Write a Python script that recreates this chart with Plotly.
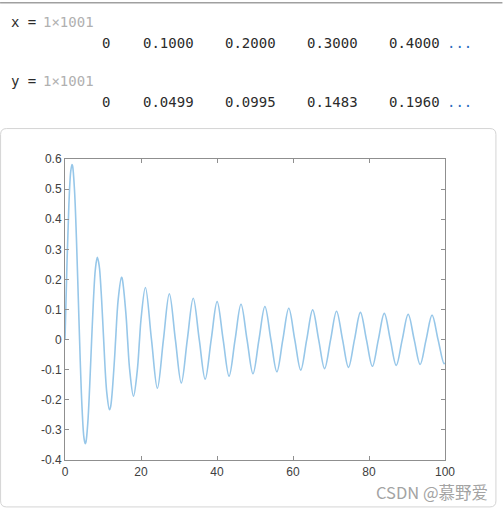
import plotly.graph_objects as go

# ---- data (start of curve, peaks, troughs and zero crossings) ----
x_vals = [0, 0.5, 1.0, 1.5, 1.8412, 2.0, 2.5, 3.0, 3.5, 4.0, 4.5, 5.0, 5.3314, 5.5, 6.0, 6.5,
          7.0, 7.5, 8.0, 8.5, 9.0, 9.5, 10.0, 10.1735, 11.0, 11.706, 12.0, 13.0, 13.3237,
          14.0, 14.8636, 15.0, 16.0, 16.4706, 17.0, 18.0155, 19.0, 19.6159, 20.0, 21.1644,
          22.7601, 24.3113, 25.9037, 27.4571, 29.0468, 30.6019, 32.1897, 33.7462, 35.3323,
          36.89, 38.4748, 40.0334, 41.6171, 43.1766, 44.7593, 46.3196, 47.9015, 49.4624,
          51.0435, 52.605, 54.1856, 55.7476, 57.3275, 58.89, 60.4695, 62.0323, 63.6114,
          65.1746, 66.7532, 68.3168, 69.8951, 71.459, 73.0369, 74.6011, 76.1787, 77.7432,
          79.3205, 80.8852, 82.4623, 84.0272, 85.604, 87.1692, 88.7458, 90.3112, 91.8875,
          93.4531, 95.0292, 96.595, 98.1709, 99.7369, 100.0]
y_vals = [0, 0.2423, 0.4401, 0.5579, 0.5819, 0.5767, 0.4971, 0.3391, 0.1374, -0.0660, -0.2311,
          -0.3276, -0.3461, -0.3414, -0.2767, -0.1538, -0.0047, 0.1352, 0.2346, 0.2731, 0.2453,
          0.1613, 0.0435, 0.0, -0.1768, -0.2333, -0.2234, -0.0703, 0.0, 0.1334, 0.2070, 0.2051,
          0.0904, 0.0, -0.0977, -0.1880, -0.1057, 0.0, 0.0668, 0.1733,
          0.0, -0.1617, 0.0, 0.1522, 0.0, -0.1442, 0.0, 0.1373, 0.0,
          -0.1314, 0.0, 0.1261, 0.0, -0.1214, 0.0, 0.1172, 0.0, -0.1134,
          0.0, 0.1100, 0.0, -0.1069, 0.0, 0.1040, 0.0, -0.1013, 0.0,
          0.0988, 0.0, -0.0965, 0.0, 0.0944, 0.0, -0.0924, 0.0, 0.0905,
          0.0, -0.0887, 0.0, 0.0870, 0.0, -0.0855, 0.0, 0.0840, 0.0,
          -0.0825, 0.0, 0.0812, 0.0, -0.0799, -0.0772]

x_ticks = [0, 20, 40, 60, 80, 100]
y_ticks = [-0.4, -0.3, -0.2, -0.1, 0, 0.1, 0.2, 0.3, 0.4, 0.5, 0.6]
y_tick_text = ["-0.4", "-0.3", "-0.2", "-0.1", "0", "0.1", "0.2", "0.3", "0.4", "0.5", "0.6"]

x_preview = ["0", "0.1000", "0.2000", "0.3000", "0.4000"]
y_preview = ["0", "0.0499", "0.0995", "0.1483", "0.1960"]
size_label = "1×1001"
watermark = "CSDN @慕野爱"

# ---- layout geometry (pixels) ----
W, H = 503, 509
L, R, T, B = 65, 57.5, 159, 48.5
PW, PH = W - L - R, H - T - B


def px(x):
    return (x - L) / PW


def py(y):
    return (H - B - y) / PH


fig = go.Figure()
fig.add_trace(go.Scatter(x=x_vals, y=y_vals, mode="lines",
                         line=dict(color="#97c7e9", width=1.6, shape="spline", smoothing=1.0),
                         hoverinfo="skip", showlegend=False))

axis_common = dict(showgrid=False, zeroline=False, showline=True, linecolor="#8f8f8f",
                   linewidth=1, mirror="allticks", ticks="inside", ticklen=4,
                   tickcolor="#8f8f8f", tickwidth=1,
                   tickfont=dict(family="Liberation Sans, Arial", size=12, color="#404040"))

fig.update_xaxes(range=[0, 100], tickvals=x_ticks, ticktext=[str(t) for t in x_ticks],
                 ticklabelstandoff=1, **axis_common)
fig.update_yaxes(range=[-0.4, 0.6], tickvals=y_ticks, ticktext=y_tick_text, **axis_common)

# ---- decorations: top rule and rounded figure frame ----
shapes = [dict(type="line", xref="paper", yref="paper", x0=px(0), x1=px(W), y0=py(2.5), y1=py(2.5),
               line=dict(color="#a0a0a0", width=1.5))]
x0, y0, x1, y1, r = 0.5, 128.5, 496.5, 507.5, 6
path = (f"M {px(x0 + r)} {py(y0)} L {px(x1 - r)} {py(y0)} Q {px(x1)} {py(y0)} {px(x1)} {py(y0 + r)} "
        f"L {px(x1)} {py(y1 - r)} Q {px(x1)} {py(y1)} {px(x1 - r)} {py(y1)} "
        f"L {px(x0 + r)} {py(y1)} Q {px(x0)} {py(y1)} {px(x0)} {py(y1 - r)} "
        f"L {px(x0)} {py(y0 + r)} Q {px(x0)} {py(y0)} {px(x0 + r)} {py(y0)} Z")
shapes.append(dict(type="path", xref="paper", yref="paper", path=path,
                   line=dict(color="#d4d4d4", width=1)))

# ---- command window text ----
mono = "DejaVu Sans Mono"
anns = []


def txt(s, x, y, color="#2b2b2b", size=14, family=mono, anchor="left"):
    anns.append(dict(text=s, x=px(x), y=py(y), xref="paper", yref="paper", showarrow=False,
                     xanchor=anchor, yanchor="middle",
                     font=dict(family=family, size=size, color=color)))


txt("x =", 9, 22)
txt(size_label, 41, 22, color="#b0b0b0")
txt("y =", 9, 81)
txt(size_label, 41, 81, color="#b0b0b0")
starts = [100, 141, 223, 305, 387]
for s, xs in zip(x_preview, starts):
    txt(s, xs, 43)
for s, xs in zip(y_preview, starts):
    txt(s, xs, 102)
txt("...", 446, 43, color="#2a6ebf")
txt("...", 446, 102, color="#2a6ebf")

anns.append(dict(text=watermark, x=px(490), y=py(506), xref="paper", yref="paper",
                 showarrow=False, xanchor="right", yanchor="bottom", borderpad=0,
                 font=dict(family="Noto Sans CJK SC", size=16.5, color="#a3a3a3")))

fig.update_layout(width=W, height=H, margin=dict(l=L, r=R, t=T, b=B),
                  paper_bgcolor="white", plot_bgcolor="white",
                  shapes=shapes, annotations=anns, showlegend=False)

fig.write_html("out.html", config={"displayModeBar": False},
               post_script="document.body.style.margin='0';document.body.style.overflow='hidden';")
